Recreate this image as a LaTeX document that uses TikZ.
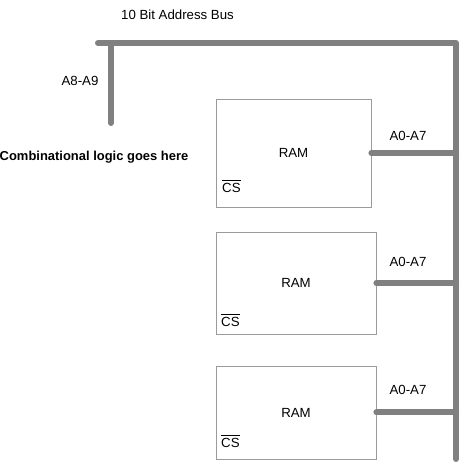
\documentclass[tikz,border=0pt]{standalone}
\usepackage{fontspec}
\setmainfont{Liberation Sans}
\usepackage{xcolor}
\usepackage{tikz}
\usetikzlibrary{positioning,calc}
\definecolor{busgray}{RGB}{128,128,128}
\definecolor{boxgray}{RGB}{155,155,155}
\newcommand{\nbar}[1]{$\overline{\mbox{\rule{0pt}{11.5bp}#1}}$}

\begin{document}
\begin{tikzpicture}[x = 1bp, y = 1bp,
  every node/.style = {font = \fontsize{13.3}{15}\selectfont, inner sep = 0pt},
  bus/.style = {line width = 6bp, busgray, line cap = round, line join = round},
  ram/.style = {draw = boxgray, line width = .8bp, fill = white}]
\useasboundingbox (0, 0) rectangle (474, 476);
\coordinate (busl) at (98, 433);
\coordinate (busr) at (456, 433);
\coordinate (busb) at (456, 17);
\coordinate (stub) at (111, 433);
\coordinate (stubend) at (111, 353);
\node[ram, minimum width = 155bp, minimum height = 108bp] (ram1) at (293.5, 323) {RAM};
\node[ram, minimum width = 160bp, minimum height = 102bp] (ram2) at (296, 193) {RAM};
\node[ram, minimum width = 160bp, minimum height = 93bp] (ram3) at (296, 63.5) {RAM};
\node[anchor = base west] (cs1) at (222, 283) {\nbar{CS}};
\node[anchor = base west] (cs2) at (221, 149) {\nbar{CS}};
\node[anchor = base west] (cs3) at (221, 28) {\nbar{CS}};
\node (title) at (177.5, 461) {10 Bit Address Bus};
\node (hi) at (80, 395) {A8-A9};
\node (lo1) at (408, 340) {A0-A7};
\node (lo2) at (408, 214) {A0-A7};
\node (lo3) at (408, 86) {A0-A7};
\node[font = \fontsize{13}{15}\selectfont\bfseries] (logic) at (94, 319) {Combinational logic goes here};
\draw[bus] (busl) -- (busr) -- (busb);
\draw[bus] (stub) -- (stubend);
\draw[bus] (ram1.east) -- (ram1.east -| busr);
\draw[bus] (ram2.east) -- (ram2.east -| busr);
\draw[bus] (ram3.east) -- (ram3.east -| busr);

\end{tikzpicture}
\end{document}
